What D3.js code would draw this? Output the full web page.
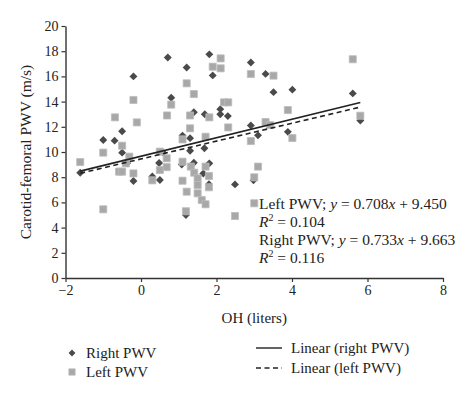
<!DOCTYPE html>
<html>
<head>
<meta charset="utf-8">
<script src="https://cdn.jsdelivr.net/npm/d3@7"></script>
<style>
  body { margin: 0; background: #fff; overflow: hidden; }
  svg { display: block; }
  svg text { font-family: "Liberation Serif", "DejaVu Serif", serif; fill: #222; }
</style>
</head>
<body>
<svg id="canvas"></svg>
<script>
// right PWV (diamonds)
const rightX = [-1.61, -1.0, -0.7, -0.5, -0.5, -0.2, -0.2, -0.37, 0.3, 0.5, 0.48, 0.59, 0.71, 0.8, 1.1, 1.08, 1.21, 1.3, 1.3, 1.19, 1.4, 1.4, 1.69, 1.68, 1.65, 1.81, 1.8, 1.81, 1.9, 2.1, 2.1, 2.3, 2.49, 2.91, 2.91, 2.98, 3.1, 3.3, 3.51, 3.89, 4.01, 5.61, 5.81];
const rightY = [8.35, 10.95, 10.9, 11.65, 9.95, 16.0, 7.7, 9.1, 8.05, 7.78, 9.13, 9.95, 17.5, 14.3, 11.3, 9.0, 16.7, 11.1, 10.1, 5.0, 13.15, 9.15, 13.0, 10.3, 8.3, 9.1, 7.45, 17.75, 16.08, 13.4, 13.0, 12.85, 7.43, 17.1, 12.1, 7.75, 11.32, 16.2, 14.75, 11.6, 14.95, 14.65, 12.5];
// left PWV (squares)
const leftX = [-1.61, -1.0, -1.0, -0.69, -0.5, -0.58, -0.5, -0.4, -0.31, -0.2, -0.2, -0.11, 0.3, 0.5, 0.5, 0.68, 0.68, 0.69, 0.8, 1.1, 1.1, 1.1, 1.21, 1.21, 1.19, 1.3, 1.3, 1.32, 1.4, 1.41, 1.5, 1.5, 1.5, 1.61, 1.71, 1.71, 1.71, 1.8, 1.8, 1.81, 1.9, 2.11, 2.11, 2.2, 2.31, 2.31, 2.49, 2.91, 2.91, 3.0, 3.0, 3.1, 3.3, 3.42, 3.51, 3.89, 4.01, 5.61, 5.81];
const leftY = [9.2, 9.95, 5.45, 12.75, 10.5, 8.44, 8.44, 9.1, 9.63, 14.13, 8.3, 12.35, 7.75, 10.03, 8.57, 9.5, 8.8, 12.9, 13.76, 11.0, 9.23, 7.72, 15.45, 6.85, 5.3, 12.9, 11.88, 8.84, 14.6, 8.36, 7.91, 7.38, 6.72, 6.19, 5.85, 11.21, 8.84, 8.1, 7.2, 12.75, 16.77, 17.43, 16.64, 13.94, 13.94, 11.95, 4.92, 16.19, 10.87, 7.99, 5.93, 8.84, 12.38, 12.14, 16.06, 13.33, 11.11, 17.36, 12.88];

// linear fits (from the annotation)
const fitNames = ["Linear (right PWV)", "Linear (left PWV)"];
const fitSlope = [0.733, 0.708];
const fitIntercept = [9.663, 9.450];
const fitDash = [null, "5,3.5"];

const xTicks = [-2, 0, 2, 4, 6, 8];
const yTicks = [0, 2, 4, 6, 8, 10, 12, 14, 16, 18, 20];

const width = 474;
const height = 398;
const margin = {top: 26, right: 31, bottom: 120, left: 65.5};
const innerWidth = width - margin.left - margin.right;
const innerHeight = height - margin.top - margin.bottom;

const svg = d3.select("#canvas").attr("width", width).attr("height", height);
const mainGroup = svg.append("g").attr("transform", `translate(${margin.left}, ${margin.top})`);

const xScale = d3.scaleLinear().domain([-2, 8]).range([0, innerWidth]);
const yScale = d3.scaleLinear().domain([0, 20]).range([innerHeight, 0]);

const xAxis = d3.axisBottom(xScale).tickValues(xTicks).tickSizeInner(4).tickSizeOuter(0).tickPadding(3);
const yAxis = d3.axisLeft(yScale).tickValues(yTicks).tickSizeInner(4).tickSizeOuter(0).tickPadding(3);

const styleAxis = g => {
    g.attr("font-size", 14).attr("font-family", "Liberation Serif, serif");
    g.selectAll(".domain").attr("stroke", "#333").attr("stroke-width", 1.4);
    g.selectAll(".tick line").attr("stroke", "#333").attr("stroke-width", 1.2);
    g.selectAll(".tick text").attr("fill", "#222");
};

mainGroup.append("g").attr("transform", `translate(0, ${innerHeight})`).call(xAxis).call(styleAxis);
mainGroup.append("g").call(yAxis).call(styleAxis);

// axis titles
svg.append("text")
    .attr("x", margin.left + innerWidth / 2)
    .attr("y", 323)
    .attr("text-anchor", "middle")
    .attr("font-size", 15)
    .text("OH (liters)");

svg.append("text")
    .attr("transform", `translate(31, ${margin.top + innerHeight / 2}) rotate(-90)`)
    .attr("text-anchor", "middle")
    .attr("font-size", 15.5)
    .text("Carotid-femoral PWV (m/s)");

const diamond = d3.symbol().type(d3.symbolDiamond2 || d3.symbolDiamond).size(40);
const square = d3.symbol().type(d3.symbolSquare).size(50);

mainGroup.append("g").selectAll("path")
    .data(rightX.map((x, i) => ({x, y: rightY[i]})))
    .join("path")
    .attr("d", diamond)
    .attr("transform", d => `translate(${xScale(d.x)}, ${yScale(d.y)})`)
    .attr("fill", "#4a4a4a");

mainGroup.append("g").selectAll("path")
    .data(leftX.map((x, i) => ({x, y: leftY[i]})))
    .join("path")
    .attr("d", square)
    .attr("transform", d => `translate(${xScale(d.x)}, ${yScale(d.y)})`)
    .attr("fill", "#a8a8a8")
    .attr("stroke", "#bdbdbd")
    .attr("stroke-width", 0.8);

// trend lines across the data range
const xMin = d3.min(rightX.concat(leftX));
const xMax = d3.max(rightX.concat(leftX));
fitSlope.forEach((m, i) => {
    mainGroup.append("line")
        .attr("x1", xScale(xMin))
        .attr("y1", yScale(m * xMin + fitIntercept[i]))
        .attr("x2", xScale(xMax))
        .attr("y2", yScale(m * xMax + fitIntercept[i]))
        .attr("stroke", "#222")
        .attr("stroke-width", 1.6)
        .attr("stroke-dasharray", fitDash[i]);
});

// equation annotation
const eq = svg.append("g").attr("font-size", 15.5);
const eqLines = [
    {y: 208.5, parts: [["Left PWV; ", ""], ["y", "i"], [" = 0.708", ""], ["x", "i"], [" + 9.450", ""]]},
    {y: 227, parts: [["R", "i"], ["2", "s"], [" = 0.104", ""]]},
    {y: 245, parts: [["Right PWV; ", ""], ["y", "i"], [" = 0.733", ""], ["x", "i"], [" + 9.663", ""]]},
    {y: 263, parts: [["R", "i"], ["2", "s"], [" = 0.116", ""]]}
];
eqLines.forEach(l => {
    const t = eq.append("text").attr("x", 259).attr("y", l.y);
    l.parts.forEach(p => {
        const s = t.append("tspan").text(p[0]);
        if (p[1] === "i") s.style("font-style", "italic");
        if (p[1] === "s") s.attr("dy", -6).attr("font-size", 10);
        if (p[1] === "" && p[0].startsWith(" =") && l.parts.some(q => q[1] === "s")) s.attr("dy", 6);
    });
});

// legend
const legend = svg.append("g").attr("font-size", 15);
legend.append("path").attr("d", d3.symbol().type(d3.symbolDiamond2 || d3.symbolDiamond).size(30)).attr("transform", "translate(72, 353)").attr("fill", "#4a4a4a");
legend.append("text").attr("x", 86).attr("y", 358).text("Right PWV");
legend.append("path").attr("d", d3.symbol().type(d3.symbolSquare).size(40)).attr("transform", "translate(72, 372)").attr("fill", "#a8a8a8").attr("stroke", "#bdbdbd").attr("stroke-width", 0.8);
legend.append("text").attr("x", 86).attr("y", 377).text("Left PWV");

fitNames.forEach((name, i) => {
    const y = 348 + i * 20;
    legend.append("line").attr("x1", 256).attr("x2", 282).attr("y1", y).attr("y2", y)
        .attr("stroke", "#222").attr("stroke-width", 1.4).attr("stroke-dasharray", fitDash[i]);
    legend.append("text").attr("x", 291).attr("y", y + 5).text(name);
});
</script>
</body>
</html>
